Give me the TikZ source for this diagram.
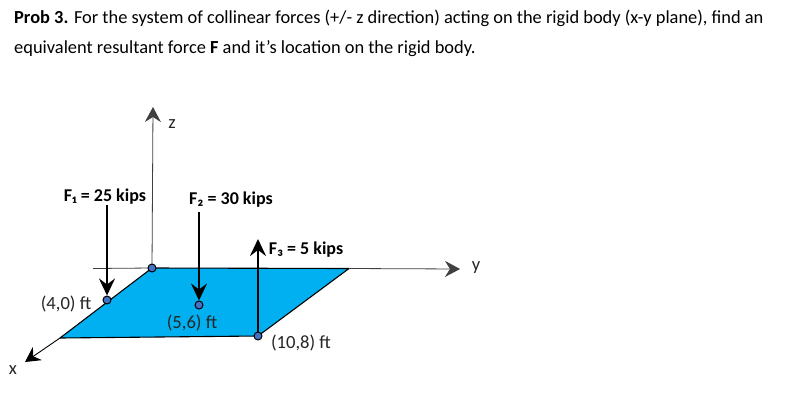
\documentclass[tikz,border=0pt]{standalone}
\usepackage{fontspec}
\setmainfont{Carlito}
\usetikzlibrary{arrows.meta}
\definecolor{plate}{HTML}{00B0F0}
\definecolor{dotc}{HTML}{4472C4}
\tikzset{
 lab/.style={inner sep=0pt,font=\fontsize{18.6pt}{20pt}\selectfont,text=black!85},
 blab/.style={inner sep=0pt,font=\fontsize{18pt}{20pt}\selectfont\bfseries,text=black},
 para/.style={inner sep=0pt,anchor=base west,font=\fontsize{18.4pt}{22pt}\selectfont,text=black},
 thin line/.style={draw=black!75,line width=0.8pt},
 axis tip/.style={-{Stealth[length=15pt,width=16pt,inset=5pt]}},
 force/.style={draw=black,line width=2.8pt},
 pt/.style={circle,draw=black,fill=dotc,line width=1pt,minimum size=8pt,inner sep=0pt}
}
\begin{document}
\begin{tikzpicture}[x=1pt,y=-1pt]
\useasboundingbox (0,0) rectangle (789,418);
\fill[white] (0,0) rectangle (789,418);
\node[para] (t1) at (14,23) {\textbf{Prob 3.} For the system of collinear forces (+/- z direction) acting on the rigid body (x-y plane), find an};
\node[para] (t2) at (14,53) {equivalent resultant force \textbf{F} and it’s location on the rigid body.};
\coordinate (o) at (152,268);
\coordinate (ytip) at (460,269);
\coordinate (yl) at (93,268.5);
\coordinate (ztip) at (153,107);
\coordinate (xtip) at (25,362);
\coordinate (c2) at (349,268.5);
\coordinate (c3) at (60,338);
\draw[thin line] (yl)--(o);
\fill[fill=plate,draw=black,line width=1.1pt,line join=round] (o)--(c2)--(258,336)--(c3)--cycle;
\draw[thin line,axis tip] (c2)--(ytip);
\draw[thin line,axis tip] (o)--(ztip);
\draw[draw=black,line width=0.9pt,axis tip] (c3)--(xtip);
\node[pt] (po) at (o) {};
\node[pt] (p1) at (107,300) {};
\node[pt] (p2) at (199,305) {};
\node[pt] (p3) at (258,336) {};
\coordinate (f1s) at (107,205);
\coordinate (f2s) at (199,212);
\coordinate (f3e) at (258,239);
\draw[force,-{Stealth[length=17pt,width=16pt,inset=6pt]}] (f1s)--(p1.north);
\draw[force,-{Stealth[length=17pt,width=16pt,inset=6pt]}] (f2s)--(p2.north);
\draw[force,-{Stealth[length=17pt,width=16pt,inset=6pt]}] (p3.north)--(f3e);
\node[lab] (z) at (172,124) {z};
\node[lab] (y) at (476,268) {y};
\node[lab] (x) at (13,370) {x};
\node[blab] (L1) at (105,196.5) {F₁ = 25 kips};
\node[blab] (L2) at (231,199.5) {F₂ = 30 kips};
\node[blab] (L3) at (306,249.5) {F₃ = 5 kips};
\node[lab] (a) at (66,304) {(4,0) ft};
\node[lab] (b) at (192,323) {(5,6) ft};
\node[lab] (c) at (301,343) {(10,8) ft};
\end{tikzpicture}
\end{document}
